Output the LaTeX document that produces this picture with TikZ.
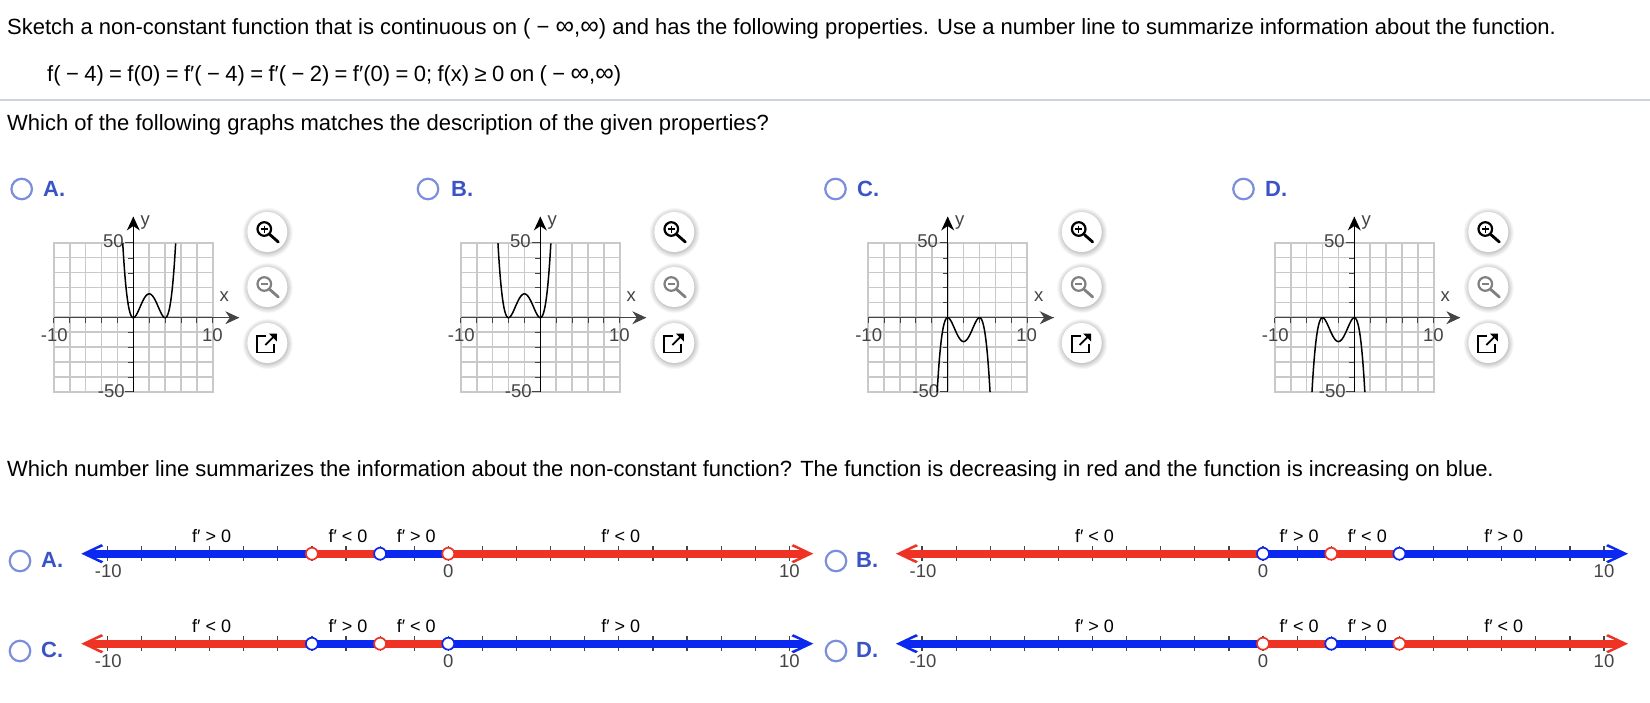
\documentclass[tikz,border=0pt]{standalone}
\usepackage{fontspec}
\setmainfont{Liberation Sans}
\definecolor{nlblue}{HTML}{0A28F0}
\definecolor{nlred}{HTML}{EE3324}
\definecolor{optblue}{HTML}{3A53C5}
\definecolor{radioc}{HTML}{7A8EDC}
\definecolor{gridc}{HTML}{C9C9C9}
\definecolor{axisc}{HTML}{444444}
\definecolor{rulec}{HTML}{CED2E2}
\newcommand{\bginf}{{\fontsize{26}{26}\selectfont ∞}}
\tikzset{
  txt/.style={anchor=base west,inner sep=0pt,font=\fontsize{22}{26}\selectfont,text=black},
  optlab/.style={anchor=west,inner sep=0pt,font=\fontsize{22}{26}\selectfont\bfseries,text=optblue},
  radiob/.style={circle,draw=radioc,line width=2.2pt,minimum size=20.5pt,inner sep=0pt,fill=white},
  axlab/.style={inner sep=0pt,font=\fontsize{18.5}{22}\selectfont,text=axisc},
  flab/.style={inner sep=0pt,font=\fontsize{18}{22}\selectfont,text=black},
  gridl/.style={draw=gridc,line width=1.6pt},
  iconbg/.style={circle,fill=white,minimum size=40pt,inner sep=0pt},
  openpt/.style={circle,fill=white,line width=1.7pt,minimum size=12pt,inner sep=0pt},
}
\newcommand{\iconbase}[3]{%
  \foreach \rr in {25,24,23,22,21,20.5}
    \fill[black,opacity=0.035] (#2+0.5,#3+1) circle[radius=\rr];
  \node[iconbg] (#1) at (#2,#3) {};
}
\newcommand{\qgraph}[3]{%
  \def\xo{#2}
  \draw[gridl] (\xo-79.5,242.7) rectangle (\xo+79.5,391.7);
  \foreach \k in {-4,...,4}{
    \draw[gridl] ({\xo+\k*15.9},242.7) -- ({\xo+\k*15.9},391.7);
    \draw[gridl] (\xo-79.5,{317.2+\k*14.9}) -- (\xo+79.5,{317.2+\k*14.9});
  }
  \foreach \k in {-5,...,5}
    \draw[axisc,line width=1pt] ({\xo+\k*15.9},317.7) -- ({\xo+\k*15.9},323);
  \foreach \k in {-4,...,4}
    \draw[axisc,line width=1pt] (\xo-5,{317.7+\k*14.9}) -- (\xo,{317.7+\k*14.9});
  \draw[axisc,line width=1pt] (\xo-8,242.7) -- (\xo,242.7);
  \draw[axisc,line width=1pt] (\xo-8,391.7) -- (\xo,391.7);
  \coordinate (#1xl) at (\xo-79.5,317.7);
  \coordinate (#1xr) at (\xo+106,317.7);
  \coordinate (#1yb) at (\xo,391.7);
  \coordinate (#1yt) at (\xo,216.5);
  \draw[axisc,line width=1.5pt] (#1xl) -- (#1xr);
  \fill[axisc] (#1xr) -- +(-14,-6.5) -- +(-9.5,0) -- +(-14,6.5) -- cycle;
  \draw[black,line width=1.5pt] (#1yb) -- (#1yt);
  \fill[black] (#1yt) -- +(-6.5,14) -- +(0,9.5) -- +(6.5,14) -- cycle;
  \node[axlab] (#1top) at (\xo-20,241) {50};
  \node[axlab] (#1bot) at (\xo-22,391) {-50};
  \node[axlab] (#1lft) at (\xo-79,335) {-10};
  \node[axlab] (#1rgt) at (\xo+79,335) {10};
  \node[axlab,yshift=1pt] (#1x) at (\xo+91,298) {x};
  \node[axlab] (#1y) at (\xo+12,223) {y};
  \iconbase{#1ip}{\xo+134}{232}
  \iconbase{#1im}{\xo+134}{287}
  \iconbase{#1ie}{\xo+134}{343}
  \begin{scope}[shift={(\xo+134,232)}]
    \draw[black,line width=2.2pt] (-3,-3) circle[radius=6.8];
    \draw[black,line width=2.8pt,line cap=round] (2.5,2.5) -- (11,10);
    \draw[black,line width=1.2pt] (-6.5,-3) -- (0.5,-3) (-3,-6.5) -- (-3,0.5);
  \end{scope}
  \begin{scope}[shift={(\xo+134,287)}]
    \draw[gray,line width=2.2pt] (-3,-3) circle[radius=6.8];
    \draw[gray,line width=2.8pt,line cap=round] (2.5,2.5) -- (11,10);
    \draw[gray,line width=1.2pt] (-6.5,-3) -- (0.5,-3);
  \end{scope}
  \begin{scope}[shift={(\xo+134,343)}]
    \draw[black,line width=1.8pt] (-1,-7) -- (-10,-7) -- (-10,9.5) -- (7,9.5) -- (7,1);
    \draw[black,line width=1.8pt] (-2,2) -- (7,-7);
    \fill[black] (9.5,-9.5) -- (1.5,-9.5) -- (9.5,-1.5) -- cycle;
  \end{scope}
}
\newcommand{\qcurve}[3]{%
  \draw[black,line width=1.5pt,line join=round]
    plot[domain=-3.327:3.327,samples=91,smooth]
    ({#1+7.95*(#2+\x)},{317.7-#3*1.49*(\x*\x-4)*(\x*\x-4)});
}
\newcommand{\numrow}[8]{%
  \def\xz{#2}\def\yz{#3}\def\bb{#4}
  \foreach \k in {-10,...,10}
    \draw[axisc,line width=1.2pt] ({\xz+\k*34.1},\yz-7.5) -- ({\xz+\k*34.1},\yz+7.5);
  \coordinate (#1L) at ({\xz-367},\yz);
  \coordinate (#1a) at ({\xz+\bb*34.1},\yz);
  \coordinate (#1b) at ({\xz+(\bb+2)*34.1},\yz);
  \coordinate (#1c) at ({\xz+(\bb+4)*34.1},\yz);
  \coordinate (#1R) at ({\xz+365},\yz);
  \draw[#5,line width=8.4pt] ($(#1L)+(10,0)$) -- (#1a);
  \draw[#6,line width=8.4pt] (#1a) -- (#1b);
  \draw[#5,line width=8.4pt] (#1b) -- (#1c);
  \draw[#6,line width=8.4pt] (#1c) -- ($(#1R)+(-10,0)$);
  \fill[#5] (#1L) -- +(20,-9.5) -- +(22,-7.5) -- +(14,-4) -- +(14,4) -- +(22,7.5) -- +(20,9.5) -- cycle;
  \fill[#6] (#1R) -- +(-20,-9.5) -- +(-22,-7.5) -- +(-14,-4) -- +(-14,4) -- +(-22,7.5) -- +(-20,9.5) -- cycle;
  \node[openpt,draw=#6] (#1p) at (#1a) {};
  \node[openpt,draw=#5] (#1q) at (#1b) {};
  \node[openpt,draw=#6] (#1s) at (#1c) {};
  \node[axlab] (#1m) at ({\xz-340},\yz+17.5) {-10};
  \node[axlab] (#1z) at (\xz,\yz+17.5) {0};
  \node[axlab] (#1t) at ({\xz+341},\yz+17.5) {10};
  \node[flab] (#1f) at ({\xz+((\bb-10)/2)*34.1+2},\yz-18) {f′ #7 0};
  \node[flab] (#1g) at ({\xz+(\bb+1)*34.1+2},\yz-18) {f′ #8 0};
  \node[flab] (#1h) at ({\xz+(\bb+3)*34.1+2},\yz-18) {f′ #7 0};
  \node[flab] (#1i) at ({\xz+((\bb+14)/2)*34.1+2},\yz-18) {f′ #8 0};
}
\usetikzlibrary{calc}
\begin{document}
\begin{tikzpicture}[x=1pt,y=-1pt]
\useasboundingbox (0,0) rectangle (1650,702);
\fill[white] (0,0) rectangle (1650,702);
\node[txt] (l1) at (7,34.5) {Sketch a non-constant function that is continuous on ( − \bginf,\bginf) and has the following properties. Use a number line to summarize information about the function.};
\node[txt] (l2) at (47,81) {\spaceskip=5.4pt f( − 4) = f(0) = f′( − 4) = f′( − 2) = f′(0) = 0; f(x) ≥ 0 on ( − \bginf,\bginf)};
\coordinate (hl) at (0,100);
\coordinate (hr) at (1650,100);
\draw[rulec,line width=2pt] (hl) -- (hr);
\node[txt] (l3) at (7,130.5) {Which of the following graphs matches the description of the given properties?};
\node[txt] (l4) at (7,476) {Which number line summarizes the information about the non-constant function? The function is decreasing in red and the function is increasing on blue.};

\node[radiob] (ra) at (21.7,189) {};
\node[optlab] (la) at (43,189) {A.};
\node[radiob] (rb) at (428,189) {};
\node[optlab] (lb) at (451,189) {B.};
\node[radiob] (rc) at (835.5,189) {};
\node[optlab] (lc) at (857,189) {C.};
\node[radiob] (rd) at (1243.5,189) {};
\node[optlab] (ld) at (1265,189) {D.};

\qgraph{ga}{133.3}{}
\qgraph{gb}{540.3}{}
\qgraph{gc}{947.7}{}
\qgraph{gd}{1354.3}{}
\qcurve{133.3}{2}{1}
\qcurve{540.3}{-2}{1}
\qcurve{947.7}{2}{-1}
\qcurve{1354.3}{-2}{-1}

\node[radiob] (na) at (20,561) {};
\node[optlab] (ma) at (41,560) {A.};
\node[radiob] (nc) at (20,651) {};
\node[optlab] (mc) at (41,650) {C.};
\node[radiob] (nb) at (836,561) {};
\node[optlab] (mb) at (856,560) {B.};
\node[radiob] (nd) at (836,651) {};
\node[optlab] (md) at (856,650) {D.};

\numrow{ra1}{448.3}{553.7}{-4}{nlblue}{nlred}{>}{<}
\numrow{rb1}{1263}{553.7}{0}{nlred}{nlblue}{<}{>}
\numrow{rc1}{448.3}{643.7}{-4}{nlred}{nlblue}{<}{>}
\numrow{rd1}{1263}{643.7}{0}{nlblue}{nlred}{>}{<}
\end{tikzpicture}
\end{document}
